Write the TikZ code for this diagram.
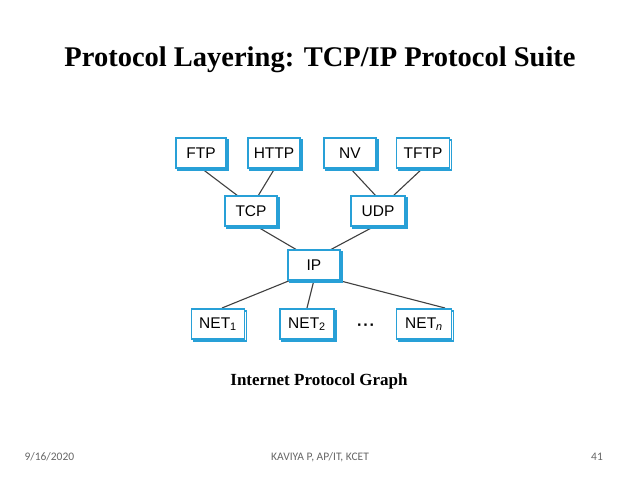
\documentclass[tikz,border=0pt]{standalone}
\usepackage{fontspec}
\setmainfont{Liberation Serif}
\newfontfamily\boxfont{Liberation Sans}
\newfontfamily\footfont{Carlito}
\usetikzlibrary{calc}
\definecolor{boxblue}{RGB}{40,160,215}
\tikzset{
  pbox/.style={draw=boxblue, line width=1.5pt, fill=white, minimum height=30pt, inner sep=0pt,
    font=\boxfont\fontsize{15.5}{15.5}\selectfont,
    preaction={draw=boxblue, line width=1.5pt, transform canvas={xshift=1.8pt,yshift=-1.8pt}}},
  link/.style={draw=black!75, line width=1.1pt},
  foot/.style={font=\footfont\fontsize{11.5}{11.5}\selectfont, text=black!60}
}
\begin{document}
\begin{tikzpicture}[x=1pt,y=-1pt]
\useasboundingbox (0,0) rectangle (638,478);
\node[font=\bfseries\fontsize{28.5}{28.5}\selectfont] (title) at (320,60) {Protocol Layering: TCP/IP Protocol Suite};
\path[link] (201,168) -- (238,196);
\path[link] (275,168) -- (258,196);
\path[link] (350,168) -- (376,196);
\path[link] (423,168) -- (393,196);
\path[link] (256,226) -- (297,250);
\path[link] (375,226) -- (330,250);
\path[link] (291,280) -- (222,308);
\path[link] (314,280) -- (307,308);
\path[link] (337,280) -- (445,308);
\node[pbox, minimum width=50pt] (ftp) at (201,153) {FTP};
\node[pbox, minimum width=52pt] (http) at (274,153) {HTTP};
\node[pbox, minimum width=52pt] (nv) at (350,153) {NV};
\node[pbox, minimum width=53pt] (tftp) at (423,153) {TFTP};
\node[pbox, minimum width=52pt] (tcp) at (251,211) {TCP};
\node[pbox, minimum width=54pt] (udp) at (378,211) {UDP};
\node[pbox, minimum width=52pt] (ip) at (314,265) {IP};
\node[pbox, minimum width=53pt] (n1) at (218,324) {NET\textsubscript{1}};
\node[pbox, minimum width=54pt] (n2) at (307,324) {NET\textsubscript{2}};
\node[pbox, minimum width=55pt] (nn) at (424,324) {NET\textsubscript{\itshape n}};
\node[font=\boxfont\bfseries\fontsize{16}{16}\selectfont] (dots) at (366,327) {\textperiodcentered\kern1pt\textperiodcentered\kern1pt\textperiodcentered};
\node[font=\bfseries\fontsize{17}{17}\selectfont] (cap) at (319,381) {Internet Protocol Graph};
\node[foot, anchor=west] (date) at (21,457) {9/16/2020};
\node[foot] (auth) at (320,457) {KAVIYA P, AP/IT, KCET};
\node[foot] (pg) at (597,457) {41};
\end{tikzpicture}
\end{document}
